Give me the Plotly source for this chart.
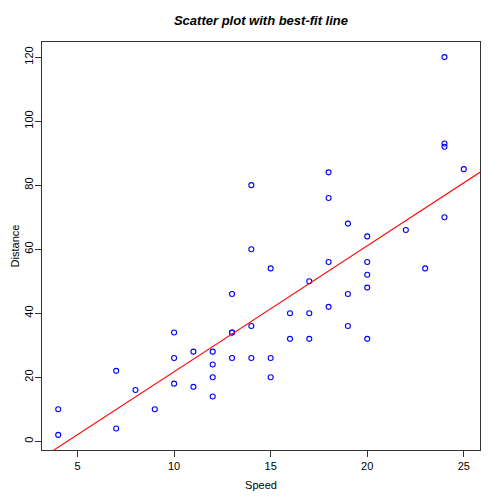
import numpy as np
import plotly.graph_objects as go

speed = [4, 4, 7, 7, 8, 9, 10, 10, 10, 11, 11, 12, 12, 12, 12, 13, 13, 13, 13, 14,
         14, 14, 14, 15, 15, 15, 16, 16, 17, 17, 17, 18, 18, 18, 18, 19, 19, 19, 20, 20,
         20, 20, 20, 22, 23, 24, 24, 24, 24, 25]
dist = [2, 10, 4, 22, 16, 10, 18, 26, 34, 17, 28, 14, 20, 24, 28, 26, 34, 34, 46, 26,
        36, 60, 80, 20, 26, 54, 32, 40, 32, 40, 50, 42, 56, 76, 84, 36, 46, 68, 32, 48,
        52, 56, 64, 66, 54, 70, 92, 93, 120, 85]
x_ticks = [5, 10, 15, 20, 25]
y_ticks = [0, 20, 40, 60, 80, 100, 120]

slope, intercept = np.polyfit(speed, dist, 1)
xr = [min(speed) - 0.04 * (max(speed) - min(speed)), max(speed) + 0.04 * (max(speed) - min(speed))]
yr = [min(dist) - 0.04 * (max(dist) - min(dist)), max(dist) + 0.04 * (max(dist) - min(dist))]
line_x = [xr[0], xr[1]]
line_y = [intercept + slope * v for v in line_x]

fig = go.Figure()
fig.add_trace(go.Scatter(x=speed, y=dist, mode="markers",
                         marker=dict(symbol="circle-open", size=5, color="#0000FF",
                                     line=dict(width=1.1, color="#0000FF")),
                         showlegend=False, cliponaxis=False))
fig.add_trace(go.Scatter(x=line_x, y=line_y, mode="lines",
                         line=dict(color="#FF0000", width=1.1), showlegend=False))

font = "Liberation Sans, Arial, sans-serif"
fig.update_layout(
    width=500, height=500,
    margin=dict(l=34, r=28, t=34, b=58),
    paper_bgcolor="white", plot_bgcolor="white",
    font=dict(family=font, size=11, color="black"),
    title=dict(text="<b><i>Scatter plot with best-fit line</i></b>", x=0.5, xanchor="center",
               xref="paper", y=0.976, yanchor="middle",
               font=dict(family=font, size=13, color="black")),
    xaxis=dict(range=xr, tickvals=x_ticks, showgrid=False, zeroline=False, automargin=False,
               showline=True, linecolor="#333333", linewidth=1, mirror=True,
               ticks="outside", ticklen=6, tickcolor="#333333", ticklabelstandoff=0,
               title=dict(text="Speed", standoff=10, font=dict(size=11))),
    yaxis=dict(range=yr, tickvals=y_ticks, showgrid=False, zeroline=False, automargin=False,
               showline=True, linecolor="#333333", linewidth=1, mirror=True,
               ticks="outside", ticklen=6, tickcolor="#333333", tickangle=-90,
               ticklabelstandoff=-2,
               title=dict(text="Distance", standoff=0, font=dict(size=11))),
)
fig.write_html("out.html")
